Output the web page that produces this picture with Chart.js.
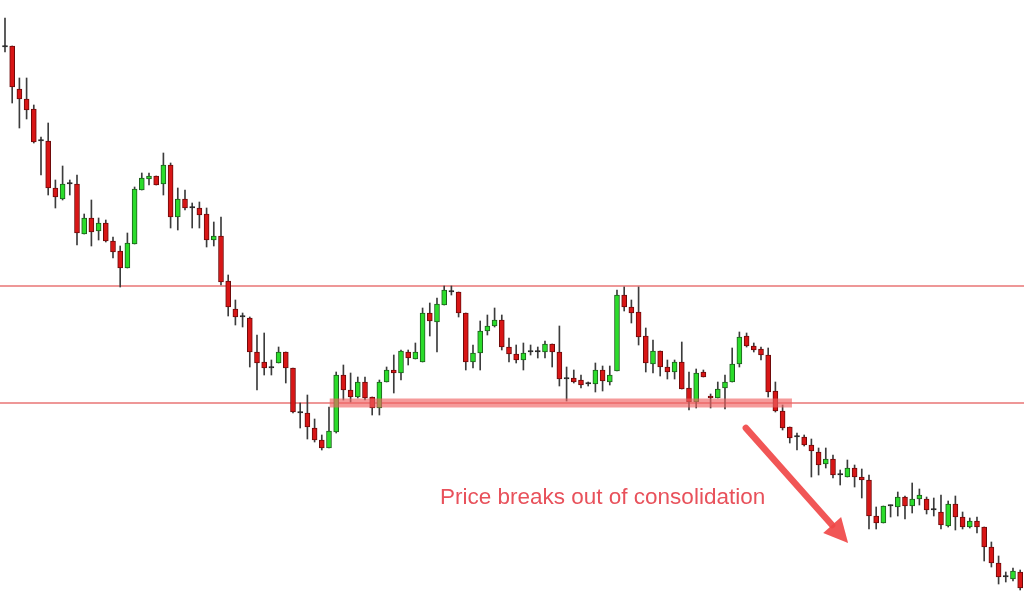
<!DOCTYPE html>
<html>
<head>
<meta charset="utf-8">
<script src="https://cdn.jsdelivr.net/npm/chart.js@4.4.1/dist/chart.umd.min.js"></script>
<style>
  html, body { margin: 0; padding: 0; background: #fff; overflow: hidden; }
  canvas { display: block; }
</style>
</head>
<body>
<canvas id="priceChart" width="1024" height="599"></canvas>
<script>
// candle values (price units), one entry per bar
const opens = [
  553,554,511,501,491,459,459,412,401,416,
  416,366,382,369,377,359,349,332,356,410,
  421,424,416,435,383,401,392,392,386,360,
  364,319,291,283,282,248,238,232,237,248,
  232,187,187,172,160,152,168,225,210,203,
  218,203,192,218,230,227,248,241,238,287,
  278,295,308,308,287,238,247,269,274,280,
  253,246,240,248,248,248,256,248,221,222,
  220,216,216,230,218,229,305,293,288,264,
  236,249,233,228,238,212,198,228,204,202,
  212,218,236,264,254,251,245,209,189,173,
  163,163,155,148,136,141,125,123,132,123,
  120,84,77,94,93,103,94,101,101,90,
  88,74,96,83,73,79,73,53,37,23,
  21,28
];
const highs = [
  582,554,522,522,495,463,477,420,434,420,
  425,386,400,382,380,363,354,367,413,427,
  427,424,447,437,412,410,397,398,392,378,
  383,325,300,287,283,265,267,240,253,248,
  232,197,205,181,165,193,228,235,227,223,
  223,203,220,233,245,250,250,257,292,297,
  302,314,314,308,287,255,279,285,292,285,
  262,255,257,255,253,259,256,274,233,230,
  225,218,237,234,234,310,313,300,313,272,
  260,249,240,240,258,228,231,230,206,218,
  225,252,268,267,257,253,252,218,195,173,
  167,165,161,152,152,145,130,140,135,131,
  125,93,94,95,108,104,117,111,103,102,
  105,99,104,88,82,83,73,58,44,28,
  32,30
];
const lows = [
  548,497,472,481,457,425,405,392,400,405,
  355,366,354,360,358,342,313,332,356,410,
  415,415,405,372,370,390,372,372,353,354,
  315,284,275,273,233,210,225,225,237,217,
  187,172,161,158,150,152,167,200,198,202,
  200,185,185,218,207,220,235,241,238,264,
  248,295,305,283,230,232,230,265,273,250,
  238,237,230,245,242,242,233,214,199,217,
  212,214,208,209,215,229,289,277,255,228,
  227,224,221,221,211,190,192,223,192,202,
  191,218,233,253,248,240,203,188,170,157,
  150,154,123,125,132,122,115,123,113,102,
  71,71,77,83,84,81,87,95,86,84,
  71,73,70,71,72,67,39,33,16,18,
  19,10
];
const closes = [
  553,513,501,490,458,459,412,403,416,416,
  367,382,368,377,359,348,332,357,411,422,
  424,415,435,383,401,392,392,385,360,364,
  318,293,283,283,248,237,232,232,248,232,
  188,187,173,160,152,169,225,210,203,218,
  202,192,218,230,227,249,242,248,287,279,
  296,310,308,287,238,247,269,274,280,253,
  246,240,247,248,248,256,248,221,221,218,
  215,216,230,219,225,305,293,287,263,237,
  249,233,228,238,211,198,227,223,202,211,
  218,236,263,254,250,245,208,189,172,162,
  163,155,149,135,141,125,125,132,123,120,
  84,77,94,94,103,94,101,105,90,90,
  75,96,83,73,79,73,53,37,23,23,
  29,12
];

// horizontal levels
const resistance = 314;
const support = 197;
// consolidation zone along support (bar index range)
const zoneFrom = 45.1;
const zoneTo = 109.3;

// annotation
const noteText = 'Price breaks out of consolidation';
const noteAt = { x: 83.0, y: 102 };
const arrowFrom = { x: 102.9, y: 172 };
const arrowTo = { x: 117.1, y: 57 };

const xMin = -0.694;
const xMax = 141.53;

const UP = '#2bdc2b', UP_EDGE = '#1d5e1d';
const DOWN = '#d81616', DOWN_EDGE = '#6e0a0a';
const DOJI = '#222222';

const wickData = highs.map((h, i) => ({ x: i, y: [lows[i], h] }));
const bodyData = opens.map((o, i) => ({ x: i, y: [o, closes[i]] }));

function candleColor(i, up, down) {
  if (closes[i] > opens[i]) return up;
  if (closes[i] < opens[i]) return down;
  return DOJI;
}

const annotations = {
  id: 'annotations',
  afterDatasetsDraw(chart) {
    const ctx = chart.ctx;
    const xs = chart.scales.x, ys = chart.scales.y;

    // arrow
    const x1 = xs.getPixelForValue(arrowFrom.x), y1 = ys.getPixelForValue(arrowFrom.y);
    const x2 = xs.getPixelForValue(arrowTo.x), y2 = ys.getPixelForValue(arrowTo.y);
    const ang = Math.atan2(y2 - y1, x2 - x1);
    const headLen = 24, headHalf = 12;
    const bx = x2 - headLen * Math.cos(ang), by = y2 - headLen * Math.sin(ang);
    ctx.save();
    ctx.strokeStyle = 'rgba(240, 72, 72, 0.92)';
    ctx.fillStyle = 'rgba(240, 72, 72, 0.92)';
    ctx.lineWidth = 6.5;
    ctx.lineCap = 'round';
    ctx.beginPath();
    ctx.moveTo(x1, y1);
    ctx.lineTo(bx, by);
    ctx.stroke();
    ctx.beginPath();
    ctx.moveTo(x2, y2);
    ctx.lineTo(bx + headHalf * Math.sin(ang), by - headHalf * Math.cos(ang));
    ctx.lineTo(bx - headHalf * Math.sin(ang), by + headHalf * Math.cos(ang));
    ctx.closePath();
    ctx.fill();

    // label
    ctx.font = '22.5px "Liberation Sans", Arial, sans-serif';
    ctx.fillStyle = '#e8515b';
    ctx.textAlign = 'center';
    ctx.textBaseline = 'middle';
    ctx.fillText(noteText, xs.getPixelForValue(noteAt.x), ys.getPixelForValue(noteAt.y));
    ctx.restore();
  }
};

new Chart(document.getElementById('priceChart'), {
  type: 'bar',
  data: {
    datasets: [
      {
        type: 'line',
        label: 'Zone',
        data: [{ x: zoneFrom, y: support }, { x: zoneTo, y: support }],
        borderColor: 'rgba(240, 100, 100, 0.65)',
        borderWidth: 9,
        borderCapStyle: 'butt',
        pointRadius: 0,
        order: 0
      },
      {
        type: 'line',
        label: 'Resistance',
        data: [{ x: xMin, y: resistance }, { x: xMax, y: resistance }],
        borderColor: '#e87474',
        borderWidth: 1.5,
        pointRadius: 0,
        order: 4
      },
      {
        type: 'line',
        label: 'Support',
        data: [{ x: xMin, y: support }, { x: xMax, y: support }],
        borderColor: '#e87474',
        borderWidth: 1.5,
        pointRadius: 0,
        order: 4
      },
      {
        label: 'Body',
        data: bodyData,
        barThickness: 5,
        minBarLength: 1.5,
        backgroundColor: ctx => candleColor(ctx.dataIndex, UP, DOWN),
        borderColor: ctx => candleColor(ctx.dataIndex, UP_EDGE, DOWN_EDGE),
        borderWidth: 1,
        borderSkipped: false,
        order: 2
      },
      {
        label: 'Wick',
        data: wickData,
        barThickness: 1,
        backgroundColor: '#3c3c3c',
        borderWidth: 0,
        order: 3
      }
    ]
  },
  options: {
    responsive: false,
    animation: false,
    layout: { padding: 0 },
    datasets: { bar: { grouped: false } },
    scales: {
      x: { type: 'linear', min: xMin, max: xMax, offset: false, display: false },
      y: { min: 1, max: 600, display: false }
    },
    plugins: {
      legend: { display: false },
      tooltip: { enabled: false }
    }
  },
  plugins: [annotations]
});
</script>
</body>
</html>
